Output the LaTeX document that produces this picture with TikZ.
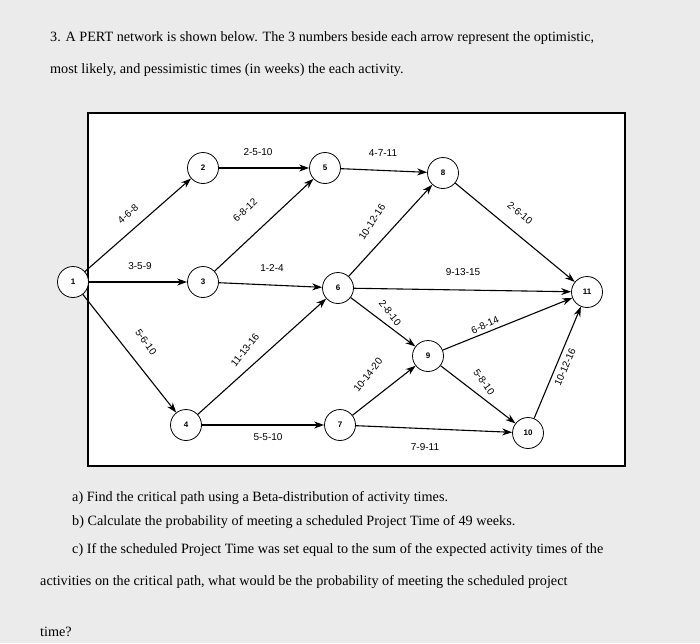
\documentclass[tikz,border=0pt]{standalone}
\usepackage{fontspec}
\setmainfont{Liberation Serif}
\newfontfamily\lab{Liberation Sans}
\usetikzlibrary{arrows.meta}
\begin{document}
\begin{tikzpicture}[x=1pt,y=-1pt,
  ev/.style={circle,draw,thick,fill=white,minimum size=31pt,inner sep=0pt,font=\lab\bfseries\fontsize{8}{9}\selectfont},
  act/.style={line width=1.1pt,-{Stealth[length=10pt,width=7pt]}},
  lb/.style={font=\lab\fontsize{10}{11}\selectfont,inner sep=1pt},
  txt/.style={anchor=west,inner sep=0pt,font=\fontsize{14.2}{16}\selectfont}]
\useasboundingbox (0,0) rectangle (700,643);
\fill[white!92!black] (0,0) rectangle (700,643);
\node[txt] (t1) at (50,38) {3. A PERT network is shown below. The 3 numbers beside each arrow represent the optimistic,};
\node[txt] (t2) at (50,70) {most likely, and pessimistic times (in weeks) the each activity.};
\draw[line width=1.3pt,fill=white] (88,113) rectangle (625,466);
\node[ev] (n1) at (73,282) {1};
\node[ev] (n2) at (203,168) {2};
\node[ev] (n3) at (203,282) {3};
\node[ev] (n4) at (186,425) {4};
\node[ev] (n5) at (325,168) {5};
\node[ev] (n6) at (338,288) {6};
\node[ev] (n7) at (340,425) {7};
\node[ev] (n8) at (443,173) {8};
\node[ev] (n9) at (428,356) {9};
\node[ev] (n10) at (528,433) {10};
\node[ev] (n11) at (587,292) {11};
\draw[act] (n1)--(n2); \draw[act] (n1)--(n3); \draw[act] (n1)--(n4);
\draw[act] (n2)--(n5); \draw[act] (n3)--(n5); \draw[act] (n3)--(n6);
\draw[act] (n4)--(n6); \draw[act] (n4)--(n7); \draw[act] (n5)--(n8);
\draw[act] (n6)--(n8); \draw[act] (n6)--(n11); \draw[act] (n6)--(n9);
\draw[act] (n7)--(n9); \draw[act] (n8)--(n11); \draw[act] (n9)--(n11);
\draw[act] (n9)--(n10); \draw[act] (n7)--(n10); \draw[act] (n10)--(n11);
\node[lb,rotate=41] (l12) at (128,214) {4-6-8};
\node[lb] (l13) at (140,266) {3-5-9};
\node[lb,rotate=-55] (l14) at (146,342) {5-6-10};
\node[lb] (l25) at (258,152) {2-5-10};
\node[lb,rotate=43] (l35) at (245,210) {6-8-12};
\node[lb] (l36) at (272,268) {1-2-4};
\node[lb,rotate=52] (l46) at (245,350) {11-13-16};
\node[lb] (l47) at (268,437) {5-5-10};
\node[lb] (l58) at (383,153) {4-7-11};
\node[lb,rotate=57] (l68) at (372,222) {10-12-16};
\node[lb] (l611) at (463,272) {9-13-15};
\node[lb,rotate=-52] (l69) at (390,313) {2-8-10};
\node[lb,rotate=52] (l79) at (368,375) {10-14-20};
\node[lb,rotate=-40] (l811) at (520,213) {2-6-10};
\node[lb,rotate=24] (l911) at (485,325) {6-8-14};
\node[lb,rotate=-55] (l910) at (484,382) {5-8-10};
\node[lb] (l710) at (425,447) {7-9-11};
\node[lb,rotate=67] (l1011) at (565,367) {10-12-16};
\node[txt] (q1) at (72,498) {a) Find the critical path using a Beta-distribution of activity times.};
\node[txt] (q2) at (72,522) {b) Calculate the probability of meeting a scheduled Project Time of 49 weeks.};
\node[txt] (q3) at (72,550) {c) If the scheduled Project Time was set equal to the sum of the expected activity times of the};
\node[txt] (q4) at (40,582) {activities on the critical path, what would be the probability of meeting the scheduled project};
\node[txt] (q5) at (40,632) {time?};
\end{tikzpicture}
\end{document}
